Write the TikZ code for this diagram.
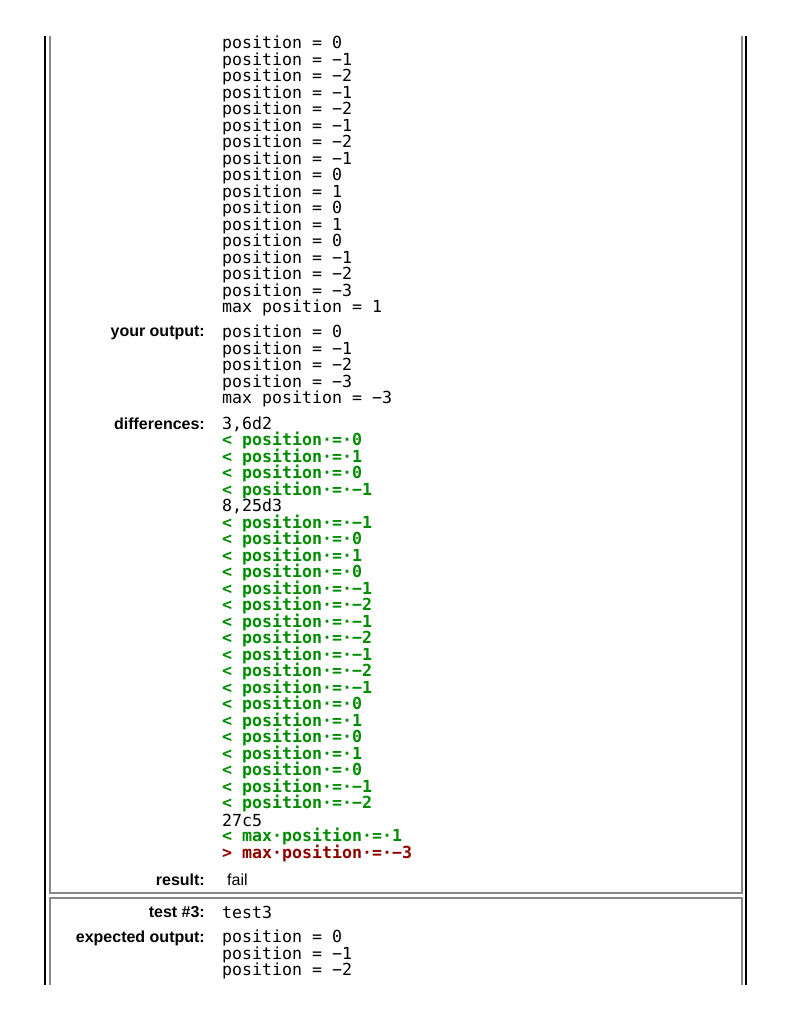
\documentclass[tikz,border=0pt]{standalone}
\usepackage{fontspec}
\setmainfont{Liberation Sans}
\setsansfont{Liberation Sans}
\setmonofont{DejaVu Sans Mono}
\definecolor{dgreen}{RGB}{0,140,0}
\definecolor{dred}{RGB}{140,0,0}
\definecolor{bgray}{RGB}{135,135,135}
\begin{document}
\begin{tikzpicture}[x=1pt,y=-1pt,
  mono/.style={anchor=west,inner sep=0pt,font=\fontsize{16.6}{16}\ttfamily},
  add/.style={mono,text=dgreen,font=\fontsize{16.6}{16}\ttfamily\bfseries},
  del/.style={mono,text=dred,font=\fontsize{16.6}{16}\ttfamily\bfseries},
  lab/.style={anchor=east,inner sep=0pt,font=\fontsize{16}{16}\sffamily\bfseries},
  outer/.style={line width=2pt,black},
  inner/.style={line width=2pt,bgray}]
\useasboundingbox (0,0) rectangle (791,1024);
% frame
\draw[outer] (45,36) -- (45,985);
\draw[outer] (745.5,36) -- (745.5,985);
\draw[inner] (49.5,36) -- (49.5,893) -- (741.5,893) -- (741.5,36);
\draw[inner] (49.5,985) -- (49.5,898) -- (741.5,898) -- (741.5,985);
% expected output (continued)
\foreach \t [count=\i] in {0,−1,−2,−1,−2,−1,−2,−1,0,1,0,1,0,−1,−2,−3}
  \node[mono] (e\i) at (222,{44+16.5*(\i-1)}) {position = \t};
\node[mono] (emax) at (222,308) {max position = 1};
% your output
\node[lab] (ly) at (205,333) {your output:};
\foreach \t [count=\i] in {0,−1,−2,−3}
  \node[mono] (y\i) at (222,{333+16.5*(\i-1)}) {position = \t};
\node[mono] (ymax) at (222,399) {max position = −3};
% differences
\node[lab] (ld) at (205,424) {differences:};
\node[mono] (d1) at (222,424) {3,6d2};
\foreach \t [count=\i] in {0,1,0,−1}
  \node[add] (a\i) at (222,{424+16.5*\i}) {< position·=·\t};
\node[mono] (d2) at (222,{424+16.5*5}) {8,25d3};
\foreach \t [count=\i] in {−1,0,1,0,−1,−2,−1,−2,−1,−2,−1,0,1,0,1,0,−1,−2}
  \node[add] (b\i) at (222,{424+16.5*(5+\i)}) {< position·=·\t};
\node[mono] (d3) at (222,{424+16.5*24}) {27c5};
\node[add] (c1) at (222,{424+16.5*25}) {< max·position·=·1};
\node[del] (c2) at (222,{424+16.5*26}) {> max·position·=·−3};
% result
\node[lab] (lr) at (205,880) {result:};
\node[anchor=west,inner sep=0pt,font=\fontsize{16}{16}\sffamily] (fail) at (227,880) {fail};
% test 3
\node[lab] (lt) at (205,912) {test \#3:};
\node[mono] (t3) at (222,912) {test3};
\node[lab] (le) at (205,938) {expected output:};
\node[mono] (f1) at (222,938) {position = 0};
\node[mono] (f2) at (222,954.5) {position = −1};
\node[mono] (f3) at (222,971) {position = −2};
\end{tikzpicture}
\end{document}
